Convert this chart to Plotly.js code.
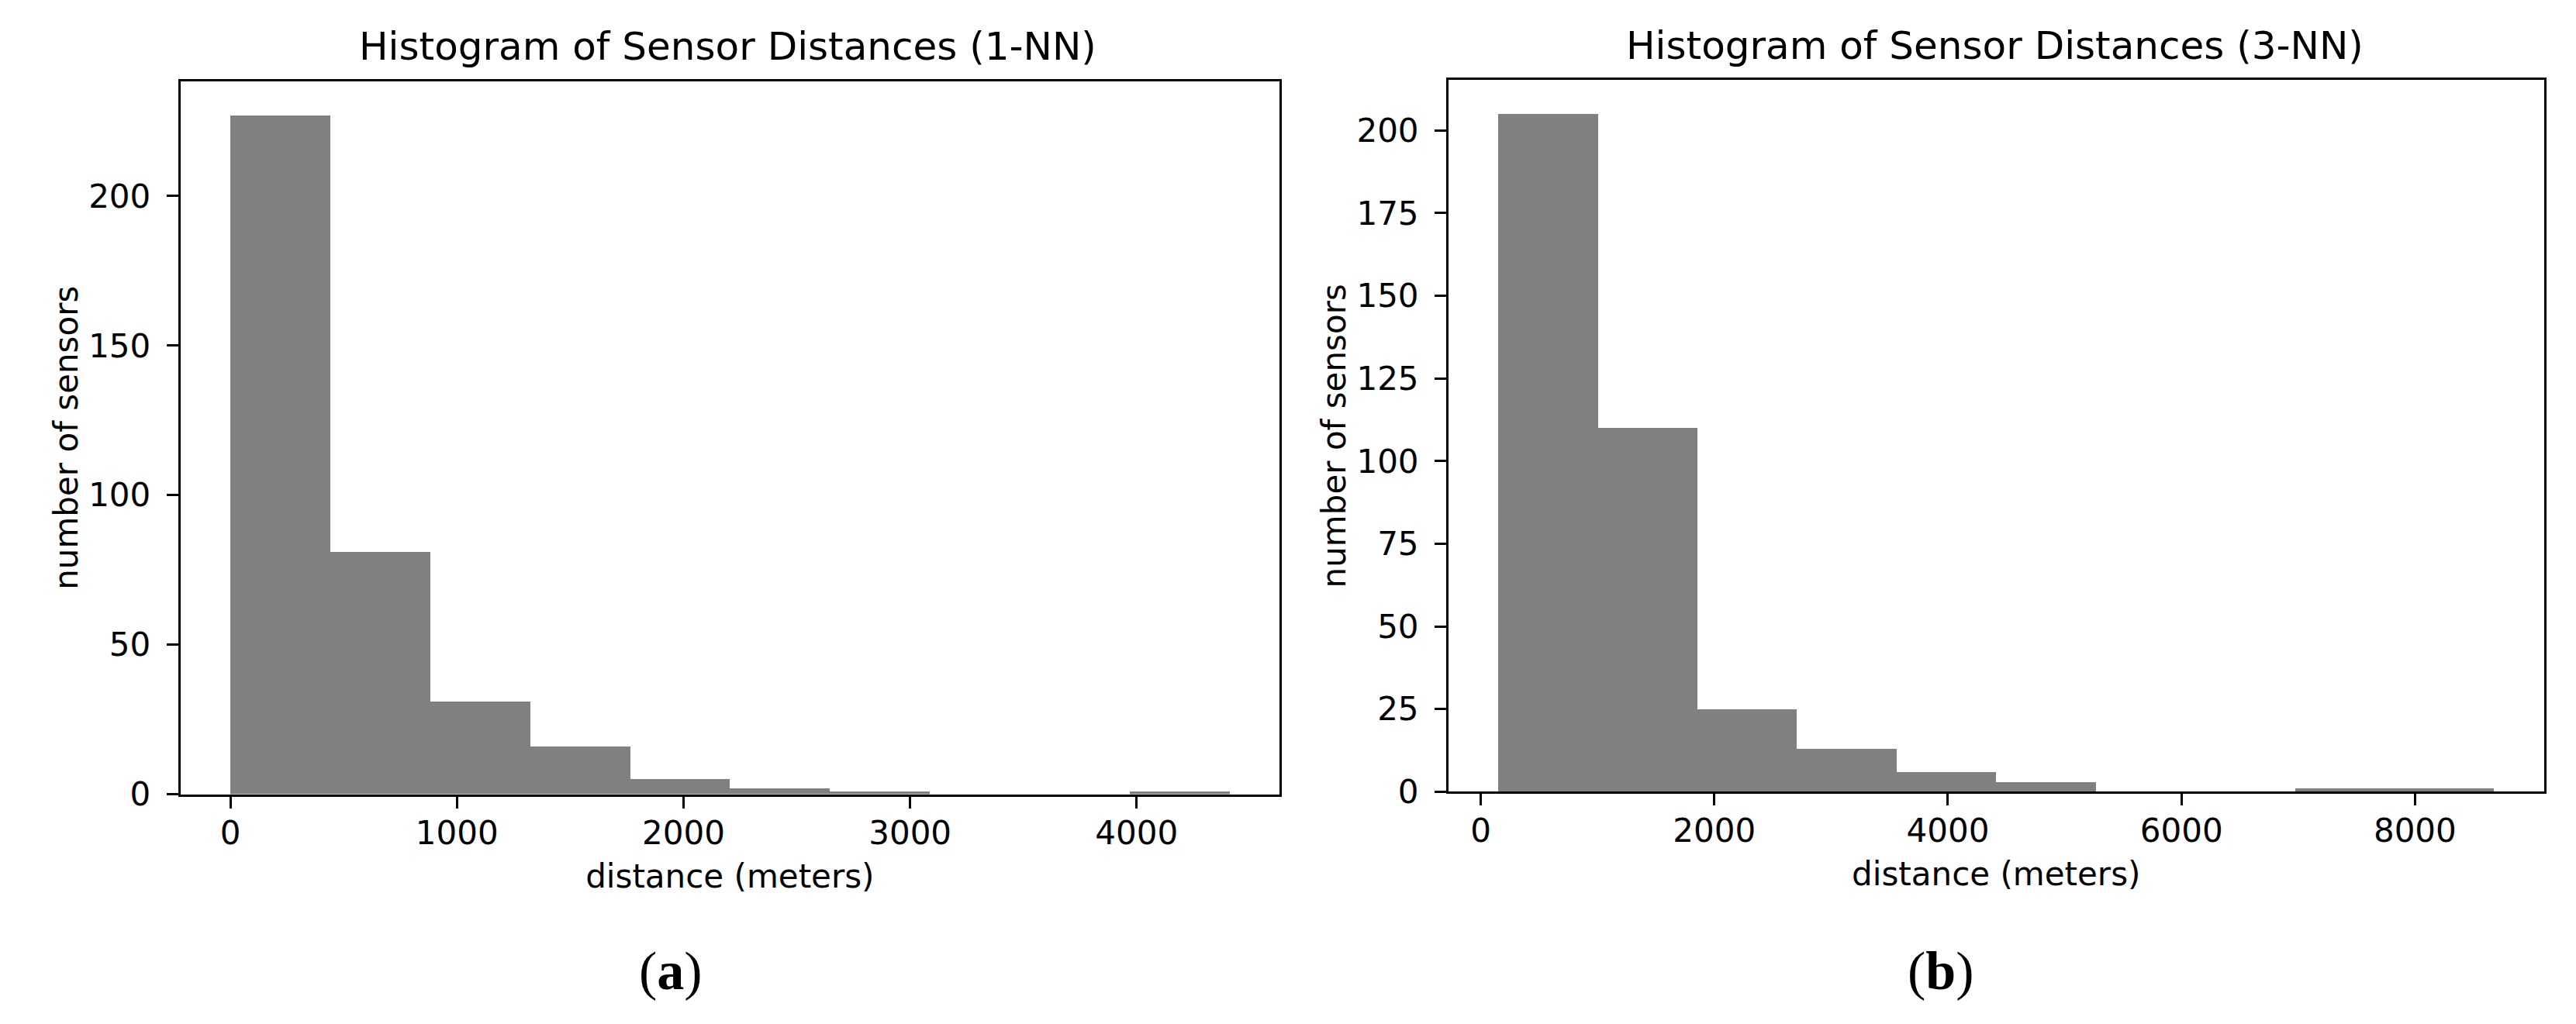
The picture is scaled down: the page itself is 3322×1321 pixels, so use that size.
<!DOCTYPE html>
<html>
<head>
<meta charset="utf-8">
<script src="https://cdn.plot.ly/plotly-3.0.1.min.js"></script>
<style>
  html, body { margin: 0; padding: 0; background: #ffffff; }
  #chart { width: 3322px; height: 1321px; }
</style>
</head>
<body>
<div id="chart"></div>
<script>
// ---- Data ----
// 1-NN histogram: bin edges (meters) and counts (number of sensors)
const nn1BinEdges = [0, 441, 882, 1323, 1764, 2205, 2646, 3087, 3528, 3969, 4410];
const nn1Counts   = [227, 81, 31, 16, 5, 2, 1, 0, 0, 1];
// 3-NN histogram
const nn3BinEdges = [150, 1003, 1855, 2708, 3561, 4414, 5266, 6119, 6972, 7824, 8677];
const nn3Counts   = [205, 110, 25, 13, 6, 3, 0, 0, 1, 1];

const nn1Title = "Histogram of Sensor Distances (1-NN)";
const nn3Title = "Histogram of Sensor Distances (3-NN)";
const xLabel = "distance (meters)";
const yLabel = "number of sensors";
const panelLabels = ["(<b>a</b>)", "(<b>b</b>)"];

// ---- Layout helpers ----
const W = 3322, H = 1321;
const px = v => v / W;
const py = v => 1 - v / H;

function centers(edges) {
  const c = [];
  for (let i = 0; i < edges.length - 1; i++) c.push((edges[i] + edges[i + 1]) / 2);
  return c;
}
function widths(edges) {
  const w = [];
  for (let i = 0; i < edges.length - 1; i++) w.push(edges[i + 1] - edges[i]);
  return w;
}
function padRange(edges, counts) {
  const lo = edges[0], hi = edges[edges.length - 1];
  const m = 0.05 * (hi - lo);
  return { x: [lo - m, hi + m], y: [0, Math.max.apply(null, counts) * 1.05] };
}

const r1 = padRange(nn1BinEdges, nn1Counts);
const r3 = padRange(nn3BinEdges, nn3Counts);

const barColor = '#808080';
const traces = [
  {
    type: 'bar', x: centers(nn1BinEdges), y: nn1Counts, width: widths(nn1BinEdges),
    marker: { color: barColor, line: { width: 0 } },
    xaxis: 'x', yaxis: 'y', showlegend: false, hoverinfo: 'x+y'
  },
  {
    type: 'bar', x: centers(nn3BinEdges), y: nn3Counts, width: widths(nn3BinEdges),
    marker: { color: barColor, line: { width: 0 } },
    xaxis: 'x2', yaxis: 'y2', showlegend: false, hoverinfo: 'x+y'
  }
];

const font = "DejaVu Sans, Verdana, sans-serif";
const tickFont = { family: font, size: 42, color: '#000' };
const labFont = { family: font, size: 42, color: '#000' };

function axisCommon() {
  return {
    showline: true, mirror: true, linecolor: '#000', linewidth: 3,
    ticks: 'outside', ticklen: 15, tickwidth: 3, tickcolor: '#000',
    showgrid: false, zeroline: false, tickfont: tickFont,
    automargin: false, fixedrange: true
  };
}

const layout = {
  width: W, height: H,
  margin: { l: 0, r: 0, t: 0, b: 0, pad: 0 },
  paper_bgcolor: '#fff', plot_bgcolor: '#fff',
  barmode: 'overlay', bargap: 0,
  font: { family: font, color: '#000' },
  xaxis: Object.assign(axisCommon(), {
    domain: [px(232.7), px(1650)], range: r1.x, tick0: 0, dtick: 1000,
    anchor: 'y', ticklabelstandoff: -4,
    title: { text: xLabel, font: labFont, standoff: 18 }
  }),
  yaxis: Object.assign(axisCommon(), {
    domain: [py(1024.5), py(105)], range: r1.y, tick0: 0, dtick: 50,
    anchor: 'x', ticklabelstandoff: 12,
    title: { text: yLabel, font: labFont, standoff: 1 }
  }),
  xaxis2: Object.assign(axisCommon(), {
    domain: [px(1868), px(3280.5)], range: r3.x, tick0: 0, dtick: 2000,
    anchor: 'y2', ticklabelstandoff: -4,
    title: { text: xLabel, font: labFont, standoff: 18 }
  }),
  yaxis2: Object.assign(axisCommon(), {
    domain: [py(1021.3), py(103.3)], range: r3.y, tick0: 0, dtick: 25,
    anchor: 'x2', ticklabelstandoff: 12,
    title: { text: yLabel, font: labFont, standoff: 1 }
  }),
  annotations: [
    { text: nn1Title, xref: 'paper', yref: 'paper', x: px(939), y: py(60),
      xanchor: 'center', yanchor: 'middle', showarrow: false,
      font: { family: font, size: 50, color: '#000' } },
    { text: nn3Title, xref: 'paper', yref: 'paper', x: px(2572), y: py(58.5),
      xanchor: 'center', yanchor: 'middle', showarrow: false,
      font: { family: font, size: 50, color: '#000' } },
    { text: panelLabels[0], xref: 'paper', yref: 'paper', x: px(865), y: py(1252),
      xanchor: 'center', yanchor: 'middle', showarrow: false,
      font: { family: "Liberation Serif, DejaVu Serif, serif", size: 70, color: '#000' } },
    { text: panelLabels[1], xref: 'paper', yref: 'paper', x: px(2503), y: py(1252),
      xanchor: 'center', yanchor: 'middle', showarrow: false,
      font: { family: "Liberation Serif, DejaVu Serif, serif", size: 70, color: '#000' } }
  ]
};

Plotly.newPlot('chart', traces, layout, { staticPlot: true, displayModeBar: false });
</script>
</body>
</html>
